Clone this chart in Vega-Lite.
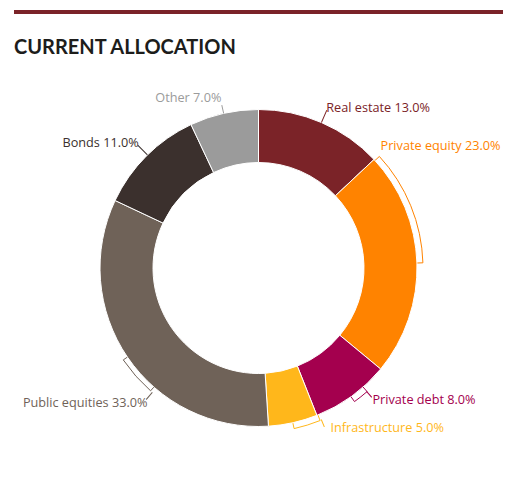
{
  "$schema": "https://vega.github.io/schema/vega-lite/v6.json",
  "width": 517,
  "height": 432,
  "autosize": "none",
  "padding": {"left": 0, "top": 52, "right": 6, "bottom": 0},
  "background": "white",
  "title": {
    "text": "CURRENT ALLOCATION",
    "anchor": "start",
    "frame": "group",
    "dx": 14,
    "offset": -63,
    "baseline": "alphabetic",
    "font": "Lato",
    "fontSize": 20,
    "fontWeight": "bold",
    "color": "#1d1d1b"
  },
  "data": {
    "values": [
      {"category": "Real estate", "value": 13, "order": 1},
      {"category": "Private equity", "value": 23, "order": 2},
      {"category": "Private debt", "value": 8, "order": 3},
      {"category": "Infrastructure", "value": 5, "order": 4},
      {"category": "Public equities", "value": 33, "order": 5},
      {"category": "Bonds", "value": 11, "order": 6},
      {"category": "Other", "value": 7, "order": 7}
    ]
  },
  "transform": [
    {"stack": "value", "groupby": [], "sort": [{"field": "order", "order": "ascending"}], "as": ["v0", "v1"]},
    {"calculate": "datum.category + ' ' + format(datum.value, '.1f') + '%'", "as": "label"}
  ],
  "encoding": {
    "theta": {"field": "v0", "type": "quantitative", "scale": {"domain": [0, 100]}, "stack": null},
    "color": {
      "field": "category",
      "type": "nominal",
      "legend": null,
      "scale": {
        "domain": ["Real estate", "Private equity", "Private debt", "Infrastructure", "Public equities", "Bonds", "Other"],
        "range": ["#7b2328", "#ff8300", "#a4004e", "#ffb71b", "#6f6258", "#3b302d", "#9b9b9b"]
      }
    }
  },
  "layer": [
    {
      "mark": {"type": "rule", "color": "#7a2328", "strokeWidth": 3},
      "encoding": {
        "x": {"value": 14},
        "x2": {"value": 503},
        "y": {"value": -40},
        "theta": null,
        "color": null
      }
    },
    {
      "transform": [{"filter": "datum.category === 'Private equity'"}],
      "mark": {"type": "arc", "radius": 164.5, "radius2": 140, "thetaOffset": 0.0087, "theta2Offset": -0.7226, "fillOpacity": 0, "stroke": "#ff8300", "strokeWidth": 1},
      "encoding": {"theta2": {"field": "v1"}, "color": null}
    },
    {
      "transform": [{"filter": "datum.category === 'Private debt'"}],
      "mark": {"type": "arc", "radius": 164.5, "radius2": 140, "thetaOffset": 0.1588, "theta2Offset": -0.2461, "fillOpacity": 0, "stroke": "#a4004e", "strokeWidth": 1},
      "encoding": {"theta2": {"field": "v1"}, "color": null}
    },
    {
      "transform": [{"filter": "datum.category === 'Infrastructure'"}],
      "mark": {"type": "arc", "radius": 164.5, "radius2": 140, "thetaOffset": -0.007, "theta2Offset": -0.1553, "fillOpacity": 0, "stroke": "#ffb71b", "strokeWidth": 1},
      "encoding": {"theta2": {"field": "v1"}, "color": null}
    },
    {
      "transform": [{"filter": "datum.category === 'Public equities'"}],
      "mark": {"type": "arc", "radius": 163.5, "radius2": 140, "thetaOffset": 0.7837, "theta2Offset": -1.0367, "fillOpacity": 0, "stroke": "#6f6258", "strokeWidth": 1},
      "encoding": {"theta2": {"field": "v1"}, "color": null}
    },
    {
      "mark": {"type": "arc", "radius": 158.5, "radius2": 105.5, "stroke": "white", "strokeWidth": 1},
      "encoding": {"theta2": {"field": "v1"}}
    },
    {
      "transform": [{"filter": "datum.category === 'Real estate'"}],
      "mark": {"type": "arc", "radius": 172, "radius2": 158.5, "thetaOffset": 0.4054, "theta2Offset": -0.4054},
      "encoding": {"theta2": {"field": "v1"}}
    },
    {
      "transform": [{"filter": "datum.category === 'Bonds'"}],
      "mark": {"type": "arc", "radius": 172, "radius2": 158.5, "thetaOffset": 0.3513, "theta2Offset": -0.3339},
      "encoding": {"theta2": {"field": "v1"}}
    },
    {
      "transform": [{"filter": "datum.category === 'Other'"}],
      "mark": {"type": "arc", "radius": 167, "radius2": 158.5, "thetaOffset": 0.2152, "theta2Offset": -0.2187},
      "encoding": {"theta2": {"field": "v1"}}
    },
    {
      "transform": [{"filter": "datum.category === 'Private debt'"}],
      "mark": {"type": "arc", "radius": 172, "radius2": 164, "thetaOffset": 0.1576, "theta2Offset": -0.3391},
      "encoding": {"theta2": {"field": "v1"}}
    },
    {
      "transform": [{"filter": "datum.category === 'Infrastructure'"}],
      "mark": {"type": "arc", "radius": 172, "radius2": 164, "thetaOffset": -0.0187, "theta2Offset": -0.3269},
      "encoding": {"theta2": {"field": "v1"}}
    },
    {
      "transform": [{"filter": "datum.category === 'Public equities'"}],
      "mark": {"type": "arc", "radius": 173, "radius2": 163.5, "thetaOffset": 0.7667, "theta2Offset": -1.3008},
      "encoding": {"theta2": {"field": "v1"}}
    },
    {
      "transform": [{"filter": "datum.category === 'Real estate'"}],
      "mark": {"type": "text", "radius": 174, "thetaOffset": 0.40, "align": "left", "baseline": "middle", "font": "Open Sans", "fontSize": 12.7},
      "encoding": {"text": {"field": "label"}}
    },
    {
      "transform": [{"filter": "datum.category === 'Private equity'"}],
      "mark": {"type": "text", "radius": 172.5, "thetaOffset": -0.031, "align": "left", "baseline": "middle", "font": "Open Sans", "fontSize": 12.7},
      "encoding": {"text": {"field": "label"}}
    },
    {
      "transform": [{"filter": "datum.category === 'Private debt'"}],
      "mark": {"type": "text", "radius": 174.5, "thetaOffset": 0.168, "align": "left", "baseline": "middle", "font": "Open Sans", "fontSize": 12.7},
      "encoding": {"text": {"field": "label"}}
    },
    {
      "transform": [{"filter": "datum.category === 'Infrastructure'"}],
      "mark": {"type": "text", "radius": 175.5, "thetaOffset": -0.045, "align": "left", "baseline": "middle", "font": "Open Sans", "fontSize": 12.7},
      "encoding": {"text": {"field": "label"}}
    },
    {
      "transform": [{"filter": "datum.category === 'Public equities'"}],
      "mark": {"type": "text", "radius": 175, "thetaOffset": 0.750, "align": "right", "baseline": "middle", "font": "Open Sans", "fontSize": 12.7},
      "encoding": {"text": {"field": "label"}}
    },
    {
      "transform": [{"filter": "datum.category === 'Bonds'"}],
      "mark": {"type": "text", "radius": 173, "thetaOffset": 0.3665, "align": "right", "baseline": "middle", "font": "Open Sans", "fontSize": 12.7},
      "encoding": {"text": {"field": "label"}}
    },
    {
      "transform": [{"filter": "datum.category === 'Other'"}],
      "mark": {"type": "text", "radius": 174, "thetaOffset": 0.225, "align": "right", "baseline": "middle", "font": "Open Sans", "fontSize": 12.7},
      "encoding": {"text": {"field": "label"}}
    }
  ],
  "config": {"view": {"stroke": null}}
}
